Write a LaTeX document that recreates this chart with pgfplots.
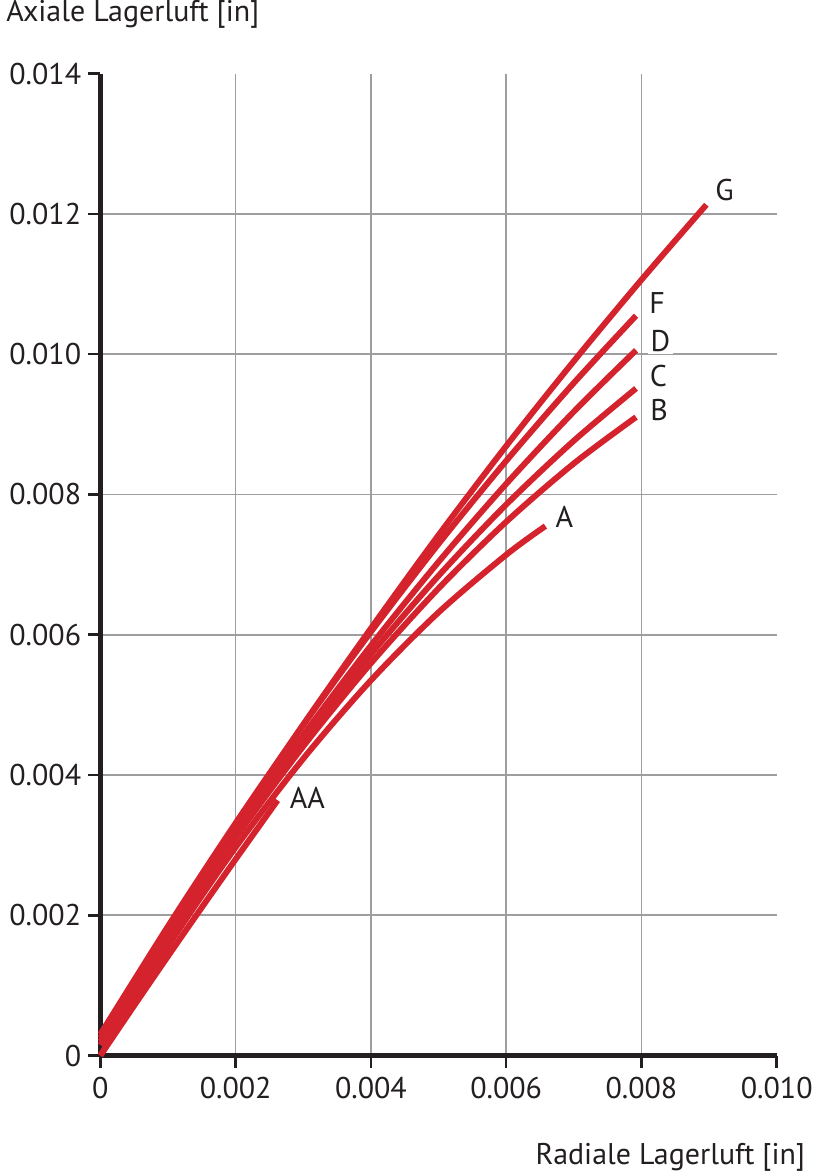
\documentclass[border=0pt]{standalone}
\usepackage{pgfplots}
\pgfplotsset{compat=1.18}
\usepackage{fontspec}
\setmainfont{PT Sans}
\definecolor{curvered}{RGB}{213,35,45}
\definecolor{gridgray}{RGB}{158,158,160}
\definecolor{txt}{RGB}{35,31,32}

\begin{document}
\begin{tikzpicture}
\begin{axis}[
  scale only axis, width=8.41cm, height=12.21cm,
  xmin=0, xmax=10, ymin=0, ymax=14,
  axis x line=bottom, axis y line=left,
  axis line style={-, line width=2pt, txt},
  xtick={0,2,4,6,8}, xticklabels={0,0.002,0.004,0.006,0.008},
  extra x ticks={10}, extra x tick labels={0.010},
  ytick={0,2,4,6,8,10,12}, yticklabels={0,0.002,0.004,0.006,0.008,0.010,0.012},
  extra y ticks={14}, extra y tick labels={0.014},
  extra tick style={grid=none},
  grid=major, major grid style={gridgray, line width=0.6pt},
  tick align=outside, major tick length=0.15cm,
  tick style={txt, line width=0.9pt},
  tick label style={font=\fontsize{10.6}{13}\selectfont, text=txt},
  yticklabel style={xshift=1pt},
  clip=false,
]
% G
\addplot[curvered, line width=2.1pt, smooth] coordinates {
  (0,0.30) (1,1.816) (2,3.282) (3,4.72) (4,6.09) (5,7.42) (6,8.69) (7,9.90) (8,11.06) (8.96,12.13)};
% F
\addplot[curvered, line width=2.1pt, smooth] coordinates {
  (0,0.30) (1,1.843) (2,3.314) (3,4.713) (4,6.04) (5,7.295) (6,8.478) (7,9.589) (7.92,10.548)};
% D
\addplot[curvered, line width=2.1pt, smooth] coordinates {
  (0,0.25) (1,1.771) (2,3.210) (3,4.568) (4,5.844) (5,7.038) (6,8.150) (7,9.180) (7.92,10.055)};
% C
\addplot[curvered, line width=2.1pt, smooth] coordinates {
  (0,0.20) (1,1.737) (2,3.169) (3,4.497) (4,5.721) (5,6.840) (6,7.855) (7,8.765) (7.92,9.511)};
% B
\addplot[curvered, line width=2.1pt, smooth] coordinates {
  (0,0.15) (1,1.687) (2,3.107) (3,4.409) (4,5.593) (5,6.66) (6,7.609) (7,8.441) (7.92,9.102)};
% A
\addplot[curvered, line width=2.1pt, smooth] coordinates {
  (0,0) (1,1.558) (2,2.969) (3,4.233) (4,5.349) (5,6.318) (6,7.139) (6.58,7.548)};
% AA
\addplot[curvered, line width=2.1pt, smooth] coordinates {
  (0,0) (0.5,0.713) (1,1.417) (1.5,2.112) (2,2.799) (2.62,3.639)};

\begin{scope}[every node/.style={fill=white, inner sep=1pt, text=txt, font=\fontsize{10.6}{13}\selectfont}]
\node at (axis cs:9.23,12.34) {G};
\node at (axis cs:8.23,10.73) {F};
\node at (axis cs:8.28,10.19) {D};
\node at (axis cs:8.25,9.69) {C};
\node at (axis cs:8.26,9.20) {B};
\node at (axis cs:6.86,7.68) {A};
\node at (axis cs:3.06,3.67) {AA};
\end{scope}

\node[anchor=base west, inner sep=0pt, text=txt, font=\fontsize{10.6}{13}\selectfont,
      xshift=-1.175cm, yshift=0.65cm] at (rel axis cs:0,1) {Axiale Lagerluft [in]};
\node[anchor=base east, inner sep=0pt, text=txt, font=\fontsize{10.6}{13}\selectfont,
      xshift=0.36cm, yshift=-1.35cm] at (rel axis cs:1,0) {Radiale Lagerluft [in]};
\end{axis}
\end{tikzpicture}
\end{document}
